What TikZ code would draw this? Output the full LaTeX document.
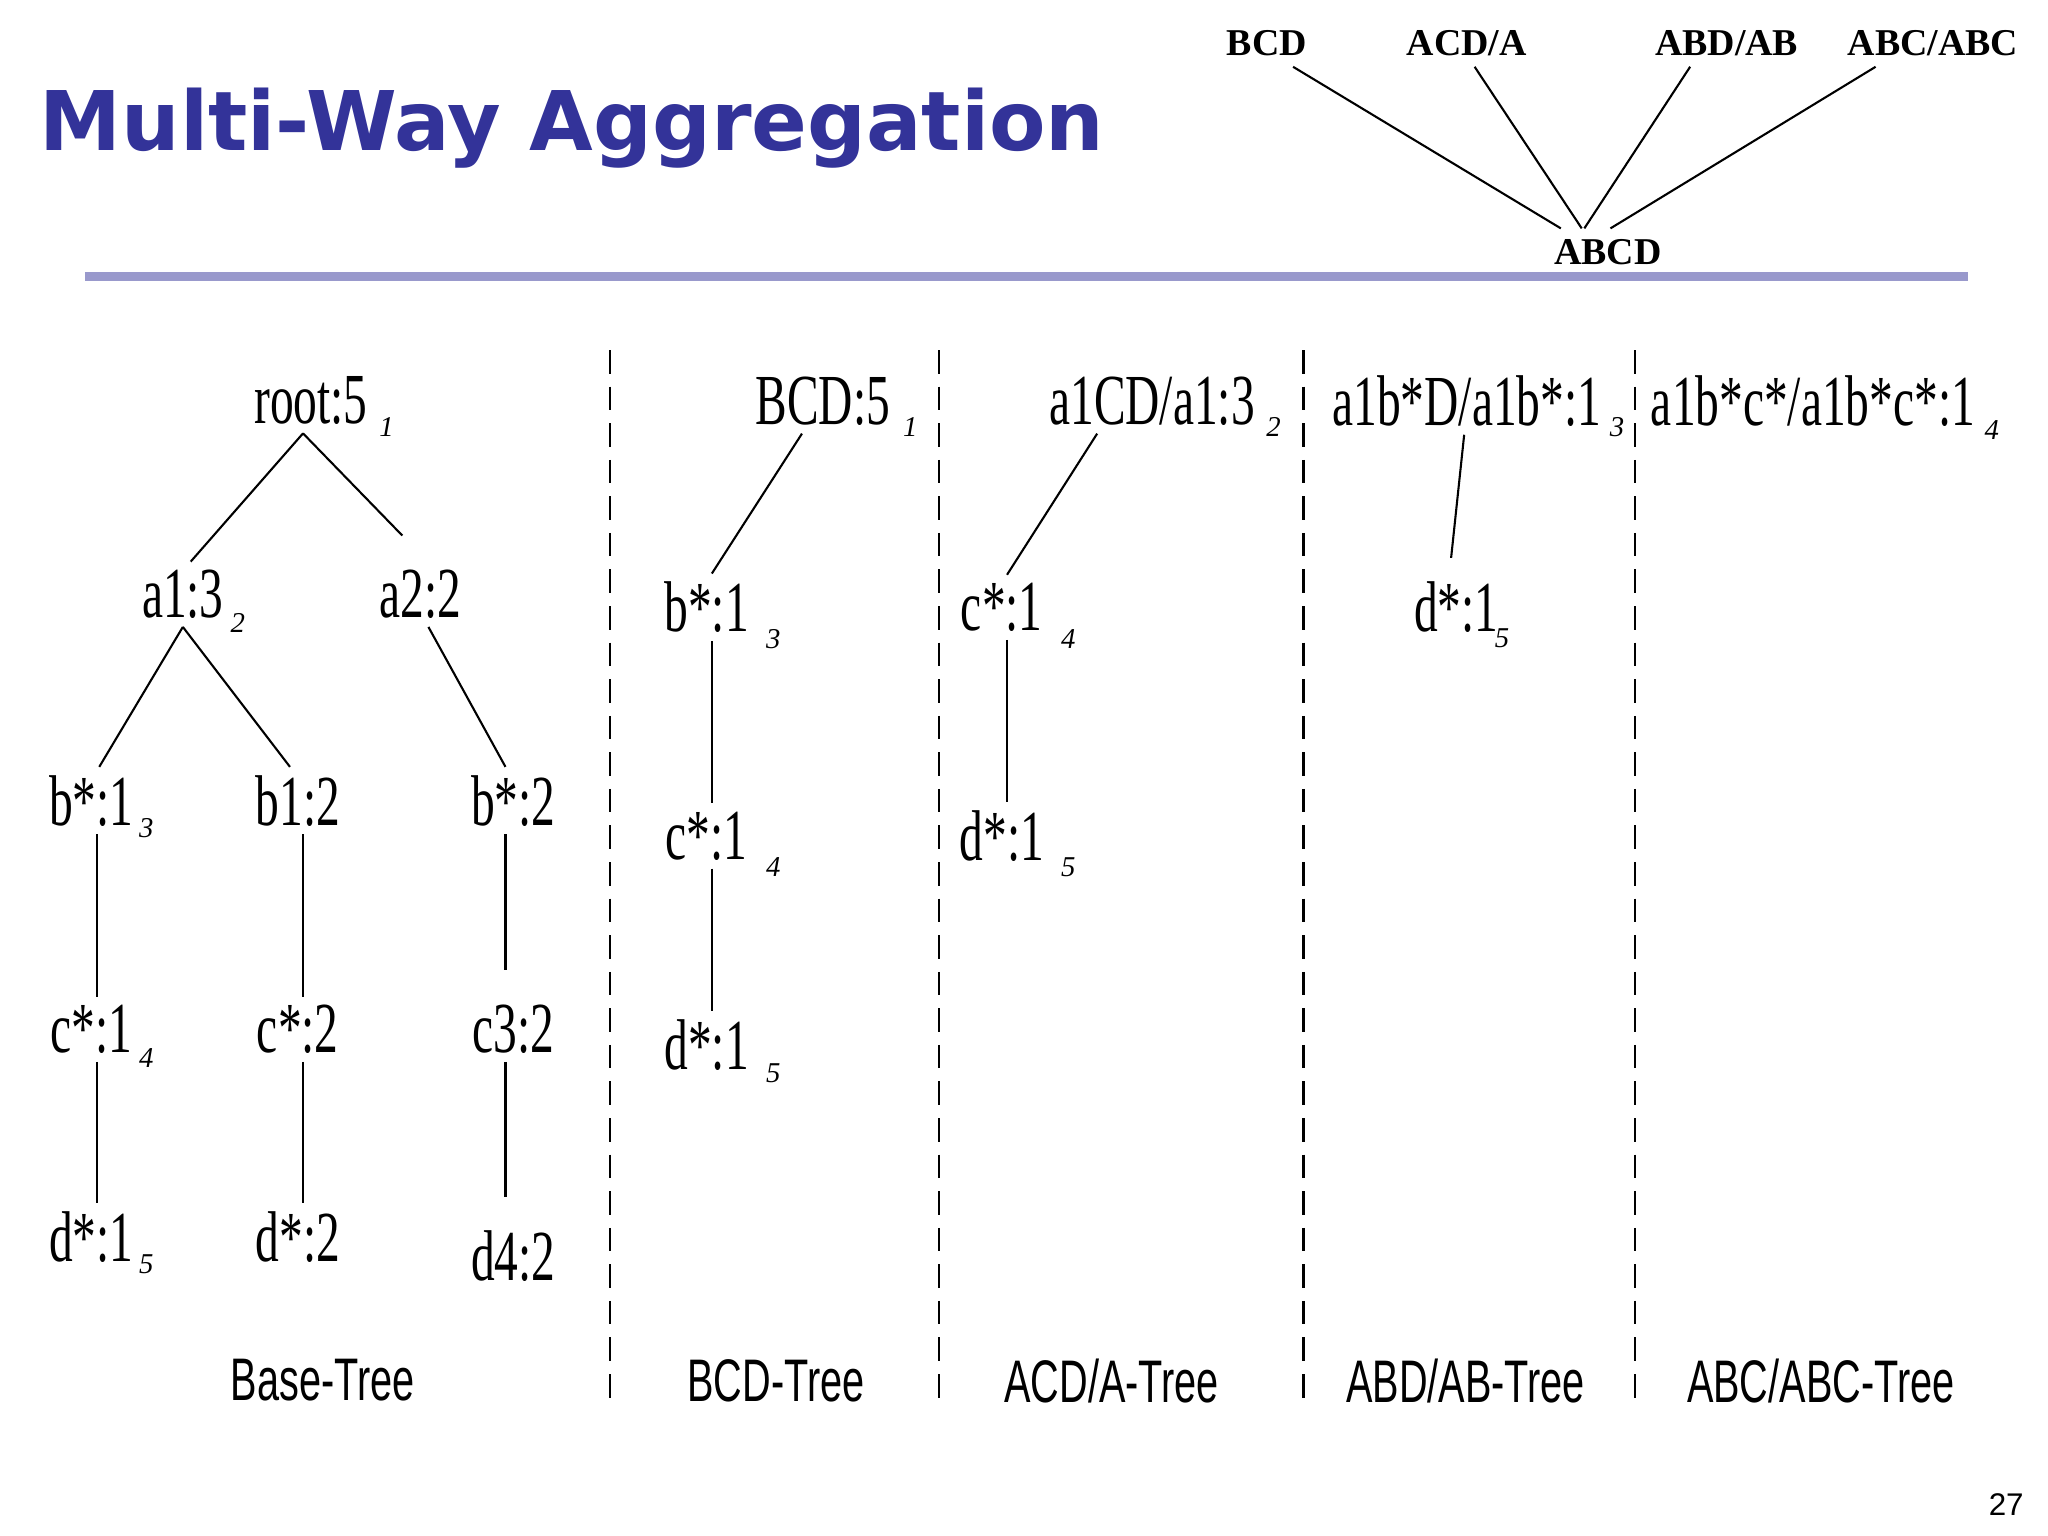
\documentclass[tikz,border=0pt]{standalone}
\usepackage{fontspec}
\setmainfont{Liberation Serif}
\newfontfamily\sansf{Liberation Sans}
\newfontfamily\titlef{DejaVu Sans}
\definecolor{titleblue}{HTML}{333399}
\definecolor{rulec}{HTML}{9999CC}
\newcommand\nrw[1]{\scalebox{0.66}[1]{#1}}
\begin{document}
\begin{tikzpicture}[x=0.5pt,y=-0.5pt,
  tn/.style={inner sep=3pt,font=\fontsize{27.5}{30}\selectfont},
  sb/.style={inner sep=0pt,font=\fontsize{11}{12}\selectfont\itshape},
  lat/.style={inner sep=4pt,font=\fontsize{14.5}{16}\selectfont\bfseries},
  lab/.style={inner sep=0pt,font=\sansf\fontsize{23}{26}\selectfont},
  sep/.style={dashed,line width=0.8pt,dash pattern=on 9pt off 5pt},
  ed/.style={line width=0.8pt}]
\useasboundingbox (0,0) rectangle (1568,1176);
% title
\node[text=titleblue,font=\titlef\bfseries\fontsize{31.5}{34}\selectfont] (title) at (438,98) {Multi-Way Aggregation};
\draw[rulec,line width=3.5pt] (65,212) coordinate (r1) -- (1507,212) coordinate (r2);
% lattice
\node[lat] (L1) at (970,33) {BCD};
\node[lat] (L2) at (1123,33) {ACD/A};
\node[lat] (L3) at (1322,33) {ABD/AB};
\node[lat] (L4) at (1480,33) {ABC/ABC};
\node[lat] (L0) at (1231,193) {ABCD};
\draw[ed] ([xshift=10pt]L1.south) -- ([xshift=-18pt]L0.north);
\draw[ed] ([xshift=3pt]L2.south) -- ([xshift=-10pt]L0.north);
\draw[ed] ([xshift=-14pt]L3.south) -- ([xshift=-9pt]L0.north);
\draw[ed] ([xshift=-22pt]L4.south) -- ([xshift=1pt]L0.north);
% separators
\foreach \x/\n in {467/s1,719/s2,998/s3,1252/s4}
  \draw[sep] (\x,268) coordinate (\n a) -- (\x,1070) coordinate (\n b);
% base tree
\node[tn] (root) at (238,307) {\nrw{root:5}};
\node[sb] (rs) at (296,327) {1};
\node[tn] (a1) at (140,455) {\nrw{a1:3}};
\node[sb] (a1s) at (182,477) {2};
\node[tn] (a2) at (322,455) {\nrw{a2:2}};
\node[tn] (b1a) at (70,613) {\nrw{b*:1}};
\node[sb] (b1as) at (112,634) {3};
\node[tn] (b1b) at (228,613) {\nrw{b1:2}};
\node[tn] (b2) at (393,613) {\nrw{b*:2}};
\node[tn] (c1a) at (70,788) {\nrw{c*:1}};
\node[sb] (c1as) at (112,810) {4};
\node[tn] (c1b) at (228,788) {\nrw{c*:2}};
\node[tn] (c3) at (393,788) {\nrw{c3:2}};
\node[tn] (d1a) at (70,947) {\nrw{d*:1}};
\node[sb] (d1as) at (112,968) {5};
\node[tn] (d1b) at (228,947) {\nrw{d*:2}};
\node[tn] (d4) at (393,962) {\nrw{d4:2}};
\draw[ed] ([xshift=-3pt]root.south) -- ([xshift=3pt]a1.north);
\draw[ed] ([xshift=-3pt]root.south) -- ([xshift=-7pt,yshift=10pt]a2.north);
\draw[ed] (a1.south) -- ([xshift=3pt]b1a.north);
\draw[ed] (a1.south) -- ([xshift=-3pt]b1b.north);
\draw[ed] ([xshift=3pt]a2.south) -- ([xshift=-3pt]b2.north);
\draw[ed] ([xshift=2pt]b1a.south) -- ([xshift=2pt]c1a.north);
\draw[ed] ([xshift=2pt]c1a.south) -- ([xshift=2pt]d1a.north);
\draw[ed] ([xshift=2pt]b1b.south) -- ([xshift=2pt]c1b.north);
\draw[ed] ([xshift=2pt]c1b.south) -- ([xshift=2pt]d1b.north);
\draw[ed] ([xshift=-3pt]b2.south) -- ([xshift=-3pt,yshift=10pt]c3.north);
\draw[ed] ([xshift=-3pt]c3.south) -- ([xshift=-3pt,yshift=10pt]d4.north);
% BCD tree
\node[tn] (B0) at (630,307) {\nrw{BCD:5}};
\node[sb] (B0s) at (697,327) {1};
\node[tn] (B1) at (541,465) {\nrw{b*:1}};
\node[sb] (B1s) at (592,489) {3};
\node[tn] (B2) at (541,640) {\nrw{c*:1}};
\node[sb] (B2s) at (592,664) {4};
\node[tn] (B3) at (541,800) {\nrw{d*:1}};
\node[sb] (B3s) at (592,822) {5};
\draw[ed] ([xshift=-8pt]B0.south) -- ([xshift=2pt]B1.north);
\draw[ed] ([xshift=2pt]B1.south) -- ([xshift=2pt]B2.north);
\draw[ed] ([xshift=2pt]B2.south) -- ([xshift=2pt]B3.north);
% ACD/A tree
\node[tn] (C0) at (882,307) {\nrw{a1CD/a1:3}};
\node[sb] (C0s) at (975,327) {2};
\node[tn] (C1) at (767,465) {\nrw{c*:1}};
\node[sb] (C1s) at (818,489) {4};
\node[tn] (C2) at (767,640) {\nrw{d*:1}};
\node[sb] (C2s) at (818,664) {5};
\draw[ed] ([xshift=-21pt]C0.south) -- ([xshift=2pt]C1.north);
\draw[ed] ([xshift=2pt]C1.south) -- ([xshift=2pt]C2.north);
% ABD/AB tree
\node[tn] (D0) at (1123,307) {\nrw{a1b*D/a1b*:1}};
\node[sb] (D0s) at (1238,327) {3};
\node[tn] (D1) at (1115,465) {\nrw{d*:1}};
\node[sb] (D1s) at (1150,489) {5};
\draw[ed] ([xshift=-1pt]D0.south) -- ([xshift=-2pt,yshift=6pt]D1.north);
% ABC/ABC tree
\node[tn] (E0) at (1388,307) {\nrw{a1b*c*/a1b*c*:1}};
\node[sb] (E0s) at (1525,329) {4};
% labels
\node[lab] (t1) at (247,1057) {\nrw{Base-Tree}};
\node[lab] (t2) at (594,1057) {\nrw{BCD-Tree}};
\node[lab] (t3) at (851,1057) {\nrw{ACD/A-Tree}};
\node[lab] (t4) at (1122,1057) {\nrw{ABD/AB-Tree}};
\node[lab] (t5) at (1394,1057) {\nrw{ABC/ABC-Tree}};
\node[font=\sansf\fontsize{12}{14}\selectfont,inner sep=0pt] (pg) at (1536,1152) {27};
\end{tikzpicture}
\end{document}
